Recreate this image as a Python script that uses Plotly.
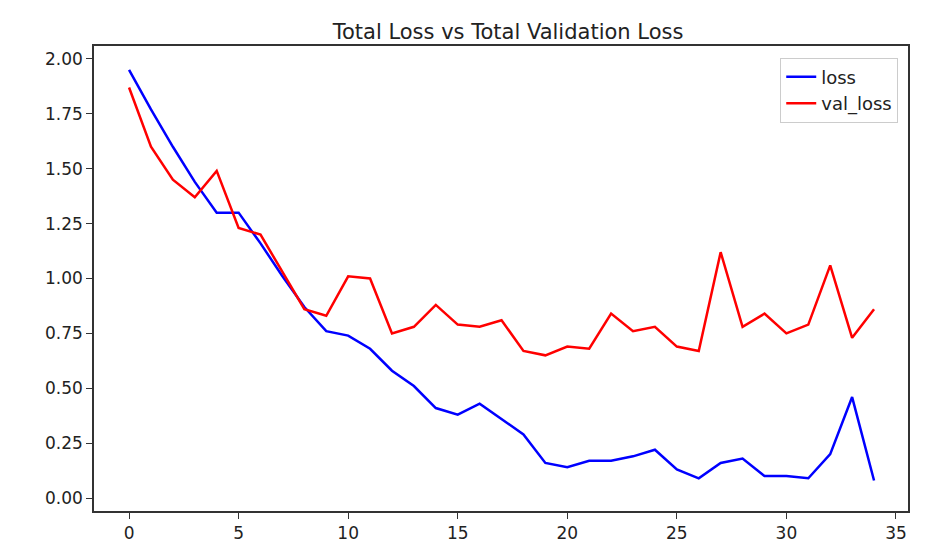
import plotly.graph_objects as go

epochs = list(range(35))
loss = [1.95,1.77,1.60,1.44,1.30,1.30,1.16,1.01,0.87,0.76,0.74,0.68,0.58,0.51,0.41,0.38,0.43,0.36,0.29,0.16,0.14,0.17,0.17,0.19,0.22,0.13,0.09,0.16,0.18,0.10,0.10,0.09,0.20,0.46,0.08]
val_loss = [1.87,1.60,1.45,1.37,1.49,1.23,1.20,1.03,0.86,0.83,1.01,1.00,0.75,0.78,0.88,0.79,0.78,0.81,0.67,0.65,0.69,0.68,0.84,0.76,0.78,0.69,0.67,1.12,0.78,0.84,0.75,0.79,1.06,0.73,0.86]

fig = go.Figure()
fig.add_trace(go.Scatter(x=epochs, y=loss, mode="lines", name="loss", line=dict(color="blue", width=2.5)))
fig.add_trace(go.Scatter(x=epochs, y=val_loss, mode="lines", name="val_loss", line=dict(color="red", width=2.5)))

axis = dict(showline=True, linecolor="#333", linewidth=1.5, mirror=True, ticks="outside",
            ticklen=6, tickcolor="#333", showgrid=False, zeroline=False,
            tickfont=dict(family="DejaVu Sans", size=17, color="#222"))
fig.update_layout(
    width=926, height=550, paper_bgcolor="white", plot_bgcolor="white",
    margin=dict(l=86, r=26, t=38, b=47),
    title=dict(text="Total Loss vs Total Validation Loss", x=0.54, xanchor="center", y=0.97,
               font=dict(family="DejaVu Sans", size=21, color="#222")),
    xaxis=dict(range=[-1.6, 35.55], tickvals=[0,5,10,15,20,25,30,35], **axis),
    yaxis=dict(range=[-0.059, 2.059], tickvals=[0,0.25,0.5,0.75,1,1.25,1.5,1.75,2],
               tickformat=".2f", **axis),
    legend=dict(x=0.988, y=0.975, xanchor="right", yanchor="top", bgcolor="white",
                bordercolor="#ccc", borderwidth=1, font=dict(family="DejaVu Sans", size=18, color="#222")),
)
fig.write_html("out.html")
